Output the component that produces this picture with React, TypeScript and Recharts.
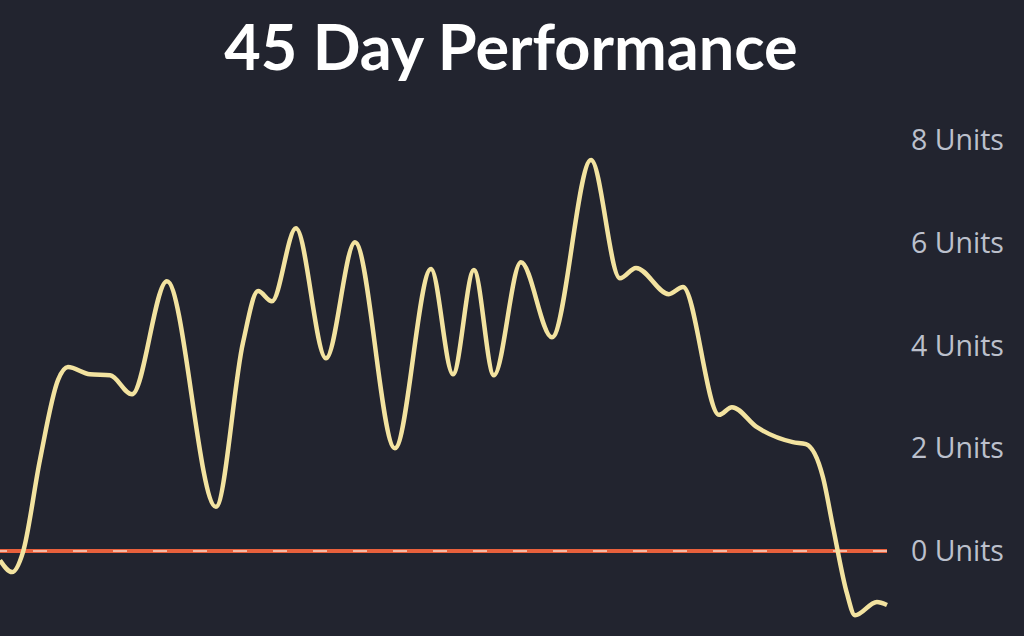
import React from 'react';
import { LineChart, Line, XAxis, YAxis, ReferenceLine } from 'recharts';

const title = '45 Day Performance';

// x position in days (0..44), value in units
const days = [
  0, 0.6, 1.14, 1.98, 2.88, 3.37, 4.46, 5.46, 6.55, 8.28, 10.71,
  12.05, 12.8, 13.49, 14.68, 16.17, 17.61, 19.59, 21.38, 22.47, 23.51, 24.5,
  25.84, 27.38, 29.32, 30.75, 31.55, 33.18, 33.88, 35.67, 36.31, 37.55,
  39.33, 39.98, 40.82, 41.32, 42.01, 42.41, 43.5, 44,
];
const units = [
  -0.18, -0.41, -0.02, 1.77, 3.33, 3.58, 3.44, 3.42, 3.05, 5.25, 0.86,
  4.05, 5.06, 4.86, 6.28, 3.75, 6.01, 2.0, 5.49, 3.44, 5.47, 3.42,
  5.62, 4.16, 7.61, 5.31, 5.51, 5.0, 5.14, 2.65, 2.8, 2.41,
  2.12, 2.08, 1.44, 0.47, -0.82, -1.25, -0.99, -1.05,
];
const yTicks = [0, 2, 4, 6, 8];

const data = days.map((d, i) => ({ day: d, units: units[i] }));

export default function App() {
  return (
    <div
      style={{
        position: 'fixed',
        left: 0,
        top: 0,
        width: 1024,
        height: 636,
        background: '#22242f',
        overflow: 'hidden',
      }}
    >
      <svg width={1024} height={100} style={{ position: 'absolute', left: 0, top: 0 }}>
        <text
          x={511}
          y={70}
          textAnchor="middle"
          fill="#ffffff"
          style={{ fontFamily: 'Lato', fontWeight: 700, fontSize: 63 }}
        >
          {title}
        </text>
      </svg>
      <div style={{ position: 'absolute', left: 0, top: 0 }}>
        <LineChart
          width={1024}
          height={636}
          data={data}
          margin={{ top: 114.3, right: 0, bottom: 7.9, left: 0 }}
        >
          <XAxis dataKey="day" type="number" domain={[0, 44]} hide />
          <YAxis
            orientation="right"
            width={137}
            domain={[-1.5, 8.5]}
            ticks={yTicks}
            axisLine={false}
            tickLine={false}
            tickMargin={18}
            tickFormatter={(v: number) => `${v} Units`}
            tick={{ fill: '#bcc0cc', fontSize: 28.5, fontFamily: 'Open Sans' }}
          />
          <ReferenceLine y={0} stroke="#e8603c" strokeWidth={4} />
          <ReferenceLine y={0} stroke="#f4b8a4" strokeWidth={2} strokeDasharray="14 26" />
          <Line
            type="monotone"
            dataKey="units"
            stroke="#f3e3a0"
            strokeWidth={4.5}
            dot={false}
            isAnimationActive={false}
          />
        </LineChart>
      </div>
    </div>
  );
}
